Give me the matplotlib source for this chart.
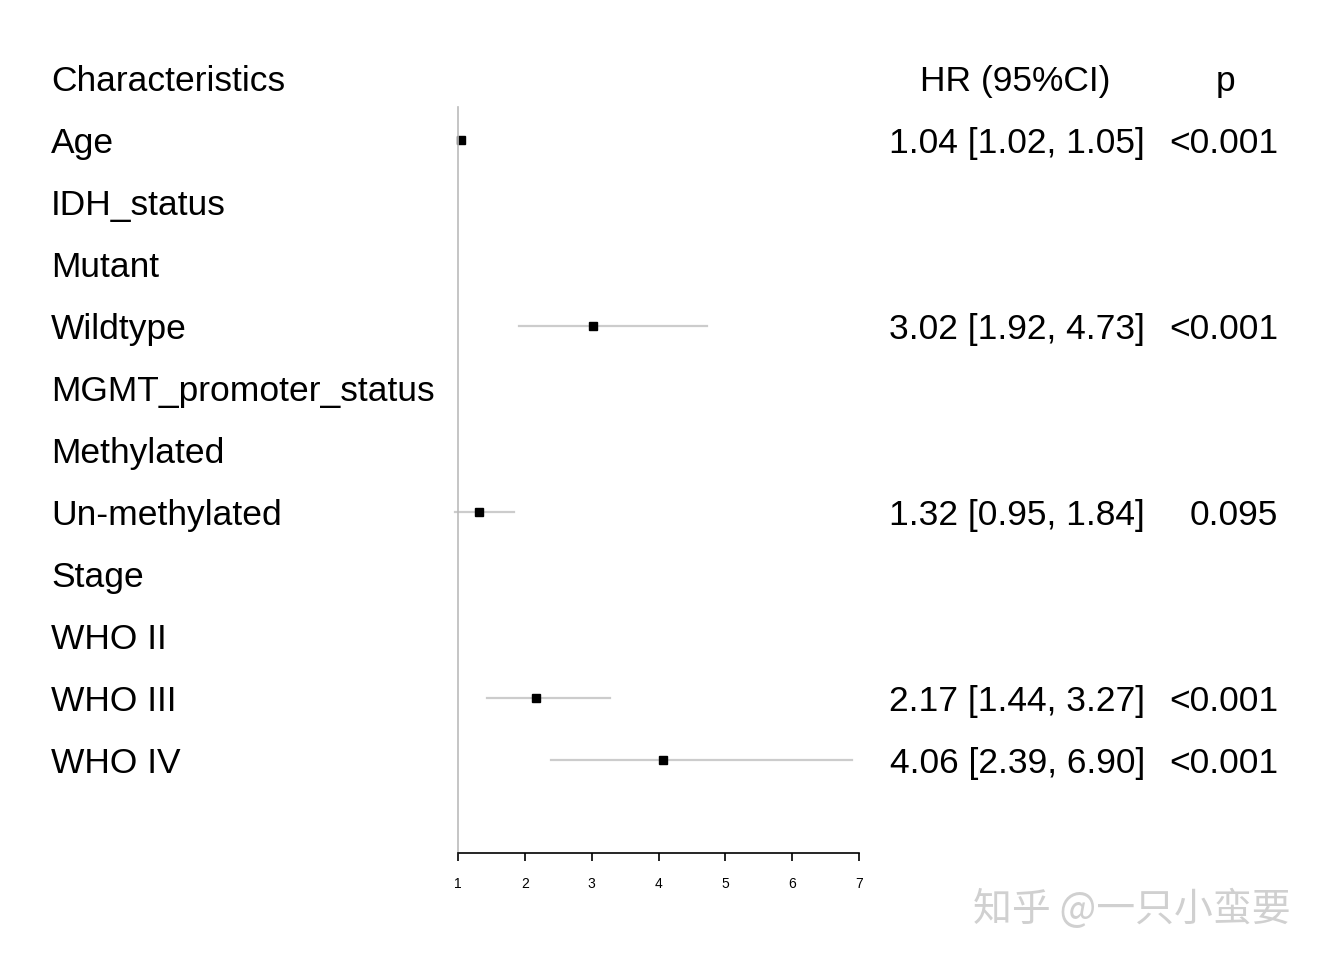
import matplotlib
matplotlib.use('Agg')
import matplotlib.pyplot as plt
import matplotlib.transforms as mtrans

labels = ['Age', 'IDH_status', 'Mutant', 'Wildtype', 'MGMT_promoter_status', 'Methylated',
          'Un-methylated', 'Stage', 'WHO II', 'WHO III', 'WHO IV']
hr = [1.04, None, None, 3.02, None, None, 1.32, None, None, 2.17, 4.06]
lo = [1.02, None, None, 1.92, None, None, 0.95, None, None, 1.44, 2.39]
hi = [1.05, None, None, 4.73, None, None, 1.84, None, None, 3.27, 6.90]
pvals = ['<0.001', '', '', '<0.001', '', '', '0.095', '', '', '<0.001', '<0.001']

W, H = 1326, 964
fig = plt.figure(figsize=(W / 100, H / 100), dpi=100)
ax = fig.add_axes([458 / W, 1 - 853 / H, (859 - 458) / W, (853 - 107) / H])
ax.set_xlim(1, 7)
ax.set_ylim(11.5, -0.53)

fam = ['Liberation Sans', 'DejaVu Sans']
fs = 25.5
for i, lab in enumerate(labels):
    if hr[i] is not None:
        ax.plot([lo[i], hi[i]], [i, i], color='#cccccc', lw=1.6, zorder=1, clip_on=False)
        ax.plot(hr[i], i, 's', color='black', ms=6, zorder=2, clip_on=False)

tr = mtrans.blended_transform_factory(fig.transFigure, ax.transData)
for i, lab in enumerate(labels):
    ax.text(51 / W, i, lab, transform=tr, fontsize=fs, family=fam, va='center_baseline', ha='left')
    if hr[i] is not None:
        ax.text(1145 / W, i, f'{hr[i]:.2f} [{lo[i]:.2f}, {hi[i]:.2f}]', transform=tr,
                fontsize=fs, family=fam, va='center_baseline', ha='right')
        ax.text(1278 / W, i, pvals[i], transform=tr, fontsize=fs, family=fam,
                va='center_baseline', ha='right')

fig.text(51 / W, 1 - 78 / H, 'Characteristics', fontsize=fs, family=fam, va='center_baseline')
fig.text(1015 / W, 1 - 78 / H, 'HR (95%CI)', fontsize=fs, family=fam, va='center_baseline', ha='center')
fig.text(1226 / W, 1 - 78 / H, 'p', fontsize=fs, family=fam, va='center_baseline', ha='center')

for s in ['top', 'right']:
    ax.spines[s].set_visible(False)
ax.spines['left'].set_color('#bbbbbb')
ax.spines['left'].set_linewidth(1.2)
ax.spines['bottom'].set_linewidth(1.2)
ax.set_yticks([])
ax.set_xticks(range(1, 8))
ax.tick_params(axis='x', labelsize=10, length=6, width=1.2, pad=11)
for t in ax.get_xticklabels():
    t.set_family(fam)

fig.text(1132 / W, 1 - 910 / H, '知乎 @一只小蛮要', fontsize=28, color='#d0d0d0',
         family=['Noto Sans CJK SC', 'DejaVu Sans'], ha='center', va='center')

fig.savefig('out.png', dpi=100)
